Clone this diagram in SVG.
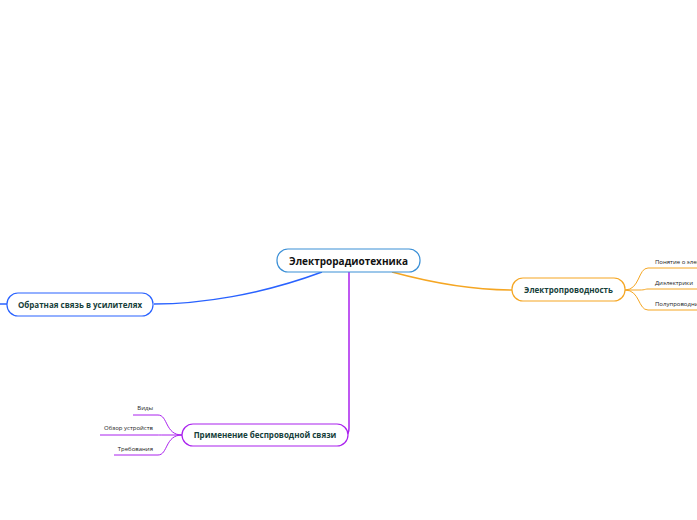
<svg xmlns="http://www.w3.org/2000/svg" width="697" height="520" viewBox="0 0 697 520">
<style>
.t{font-family:"Open Sans","Noto Sans",sans-serif;font-weight:bold;fill:#16403a}
.s{font-family:"Open Sans","Noto Sans",sans-serif;font-size:6px;fill:#222}
.c{fill:none;stroke-width:1.5}
</style>
<rect width="697" height="520" fill="#fff"/>
<g id="connectors">
<path class="c" stroke="#2962ff" d="M322 272 C260 295 200 304 154 304"/>
<path class="c" stroke="#2962ff" d="M7 304 H0"/>
<path class="c" stroke="#f5a623" d="M392 272 C440 285 480 290 512 290"/>
<path class="c" stroke="#aa22ee" d="M349 272 V428 C349 434 347 435 345 435"/>
<g stroke="#f5a623" fill="none">
<path d="M625 290 C640 290 638 268 648 268 H697"/>
<path d="M625 290 H640 C645 290 645 289 648 289 H697"/>
<path d="M625 290 C640 290 638 310 648 310 H697"/>
</g>
<g stroke="#aa22ee" fill="none">
<path stroke-width="1" d="M182 435 C165 435 168 415 158 415 H133"/>
<path stroke-width="1" d="M182 435 H163 C160 435 160 435 156 435 H100"/>
<path stroke-width="1" d="M182 435 C165 435 168 455 158 455 H114"/>
</g>
</g>
<g id="root">
<rect x="277" y="249" width="143" height="23" rx="11" fill="#fff" stroke="#3a8fd6" stroke-width="1.2"/>
<text x="348.5" y="265" text-anchor="middle" class="t" style="fill:#111;font-size:10px">Электрорадиотехника</text>
</g>
<g id="n1">
<rect x="7" y="293" width="146" height="23" rx="11" fill="#fff" stroke="#2962ff" stroke-width="1.2"/>
<text x="80" y="308" text-anchor="middle" class="t" style="font-size:8px">Обратная связь в усилителях</text>
</g>
<g id="n2">
<rect x="512" y="278" width="113" height="23" rx="11" fill="#fff" stroke="#f5a623" stroke-width="1.2"/>
<text x="568.5" y="293" text-anchor="middle" class="t" style="font-size:8px">Электропроводность</text>
</g>
<g id="n3">
<rect x="182" y="424" width="166" height="22" rx="11" fill="#fff" stroke="#aa22ee" stroke-width="1.2"/>
<text x="265" y="438" text-anchor="middle" class="t" style="font-size:8px">Применение беспроводной связи</text>
</g>
<g id="leaves">
<text x="655" y="264" class="s">Понятие о электропроводности</text>
<text x="655" y="285" class="s">Диэлектрики</text>
<text x="655" y="306" class="s">Полупроводники</text>
<text x="153" y="410" text-anchor="end" class="s">Виды</text>
<text x="153" y="430" text-anchor="end" class="s">Обзор устройств</text>
<text x="153" y="451" text-anchor="end" class="s">Требования</text>
</g>
</svg>
